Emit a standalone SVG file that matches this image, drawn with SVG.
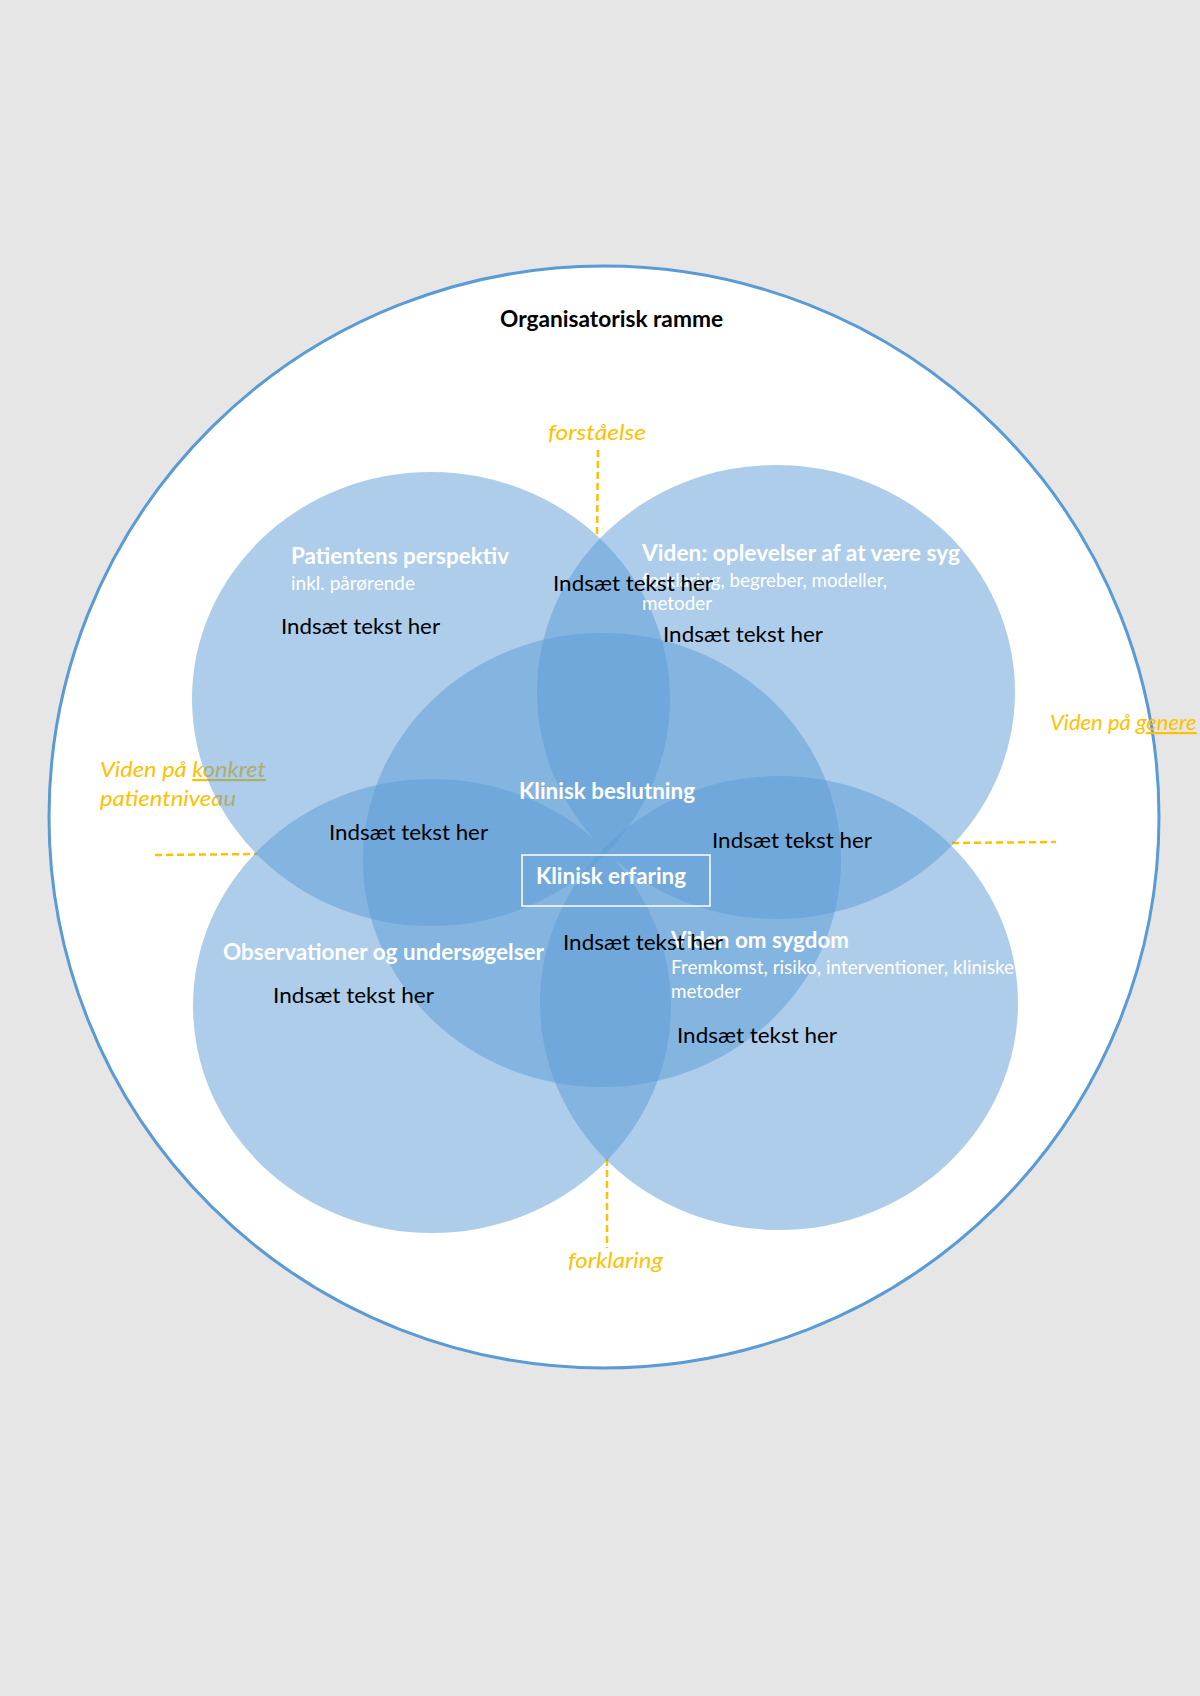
<svg xmlns="http://www.w3.org/2000/svg" width="1200" height="1696" viewBox="0 0 1200 1696">
  <style>
    text { font-family: Lato, "Liberation Sans", sans-serif; }
    .blk { fill: #000000; font-size: 22px; }
    .ttl { fill: #FFFFFF; font-size: 22px; font-weight: bold; }
    .sub { fill: #FFFFFF; font-size: 18.5px; }
    .org { fill: #FFC000; font-size: 22px; font-style: italic; }
    .bold { font-weight: bold; }
    .circ { fill: #5B9BD5; fill-opacity: 0.5; }
    .dash { stroke: #FFC000; stroke-width: 2.5; stroke-dasharray: 7 4; fill: none; }
  </style>
  <rect x="0" y="0" width="1200" height="1696" fill="#E6E6E6"/>

  <g id="frame">
    <ellipse cx="604" cy="817" rx="555" ry="551" fill="#FFFFFF" stroke="#5B9BD5" stroke-width="3"/>
    <text class="blk bold" x="500" y="327" textLength="223" lengthAdjust="spacingAndGlyphs">Organisatorisk ramme</text>
  </g>

  <g id="axis-labels">
    <text class="org" x="548" y="440" textLength="98" lengthAdjust="spacingAndGlyphs">forståelse</text>
    <text class="org" x="568" y="1268" textLength="95" lengthAdjust="spacingAndGlyphs">forklaring</text>
    <text class="org" x="100" y="777" textLength="166" lengthAdjust="spacingAndGlyphs">Viden på <tspan text-decoration="underline">konkret</tspan></text>
    <text class="org" x="100" y="806" textLength="136" lengthAdjust="spacingAndGlyphs">patientniveau</text>
    <text class="org" x="1050" y="730">Viden på <tspan text-decoration="underline">genere</tspan></text>
  </g>

  <g id="connectors">
    <path class="dash" d="M598 450 L597 537"/>
    <path class="dash" d="M607 1159 L607 1248"/>
    <path class="dash" d="M155 855 L257 854"/>
    <path class="dash" d="M952 843 L1056 842"/>
  </g>

  <g id="circles">
    <g id="node-patientens-perspektiv"><ellipse class="circ" cx="431" cy="699" rx="239" ry="227"/></g>
    <g id="node-viden-oplevelser"><ellipse class="circ" cx="776" cy="692" rx="239" ry="227"/></g>
    <g id="node-observationer"><ellipse class="circ" cx="432" cy="1006" rx="239" ry="227"/></g>
    <g id="node-viden-sygdom"><ellipse class="circ" cx="779" cy="1003" rx="239" ry="227"/></g>
    <g id="node-klinisk-beslutning"><ellipse class="circ" cx="602" cy="860" rx="239" ry="227"/></g>
  </g>

  <g id="titles">
    <g id="label-patientens-perspektiv">
      <text class="ttl" x="291" y="564" textLength="218" lengthAdjust="spacingAndGlyphs">Patientens perspektiv</text>
      <text class="sub" x="291" y="590" textLength="124" lengthAdjust="spacingAndGlyphs">inkl. pårørende</text>
    </g>
    <g id="label-viden-oplevelser">
      <text class="ttl" x="642" y="561" textLength="318" lengthAdjust="spacingAndGlyphs">Viden: oplevelser af at være syg</text>
      <text class="sub" x="642" y="587" textLength="245" lengthAdjust="spacingAndGlyphs">forklaring, begreber, modeller,</text>
      <text class="sub" x="642" y="610" textLength="70" lengthAdjust="spacingAndGlyphs">metoder</text>
    </g>
    <g id="label-klinisk-beslutning">
      <text class="ttl" x="519" y="799" textLength="176" lengthAdjust="spacingAndGlyphs">Klinisk beslutning</text>
    </g>
    <g id="node-klinisk-erfaring">
      <rect x="522" y="855" width="188" height="51" fill="none" stroke="#FFFFFF" stroke-width="1.5"/>
      <text class="ttl" x="536" y="884" textLength="150" lengthAdjust="spacingAndGlyphs">Klinisk erfaring</text>
    </g>
    <g id="label-observationer">
      <text class="ttl" x="223" y="960" textLength="321" lengthAdjust="spacingAndGlyphs">Observationer og undersøgelser</text>
    </g>
    <g id="label-viden-sygdom">
      <text class="ttl" x="671" y="948" textLength="178" lengthAdjust="spacingAndGlyphs">Viden om sygdom</text>
      <text class="sub" x="671" y="974" textLength="343" lengthAdjust="spacingAndGlyphs">Fremkomst, risiko, interventioner, kliniske</text>
      <text class="sub" x="671" y="998" textLength="70" lengthAdjust="spacingAndGlyphs">metoder</text>
    </g>
  </g>

  <g id="placeholders">
    <text class="blk" x="281" y="634" textLength="159" lengthAdjust="spacingAndGlyphs">Indsæt tekst her</text>
    <text class="blk" x="553" y="591" textLength="160" lengthAdjust="spacingAndGlyphs">Indsæt tekst her</text>
    <text class="blk" x="663" y="642" textLength="160" lengthAdjust="spacingAndGlyphs">Indsæt tekst her</text>
    <text class="blk" x="329" y="840" textLength="159" lengthAdjust="spacingAndGlyphs">Indsæt tekst her</text>
    <text class="blk" x="712" y="848" textLength="160" lengthAdjust="spacingAndGlyphs">Indsæt tekst her</text>
    <text class="blk" x="563" y="950" textLength="160" lengthAdjust="spacingAndGlyphs">Indsæt tekst her</text>
    <text class="blk" x="273" y="1003" textLength="161" lengthAdjust="spacingAndGlyphs">Indsæt tekst her</text>
    <text class="blk" x="677" y="1043" textLength="160" lengthAdjust="spacingAndGlyphs">Indsæt tekst her</text>
  </g>
</svg>
